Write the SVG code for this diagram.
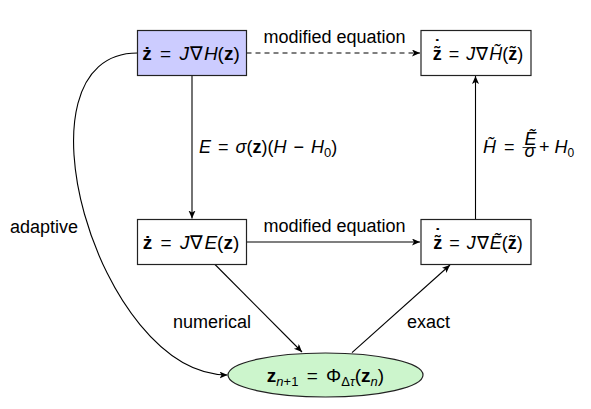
<svg xmlns="http://www.w3.org/2000/svg" width="591" height="409" viewBox="0 0 591 409">
<style>
text{font-family:"Liberation Sans",Arial,sans-serif;font-size:18px;fill:#000}
.m{font-size:19px;word-spacing:3px}
.m2{font-size:18px;word-spacing:2px}
.box{stroke:#222;stroke-width:1.2}
.c{fill:none;stroke:#000;stroke-width:1.1}
.i{font-style:italic}
.b{font-weight:bold}
</style>
<defs>
<marker id="ah" markerUnits="userSpaceOnUse" markerWidth="10" markerHeight="8" refX="8" refY="3.5" orient="auto">
<path d="M0,0 L8,3.5 L0,7 L2,3.5 z" fill="#000"/>
</marker>
</defs>
<rect width="591" height="409" fill="#fff"/>
<g id="connectors">
<line class="c" x1="246.5" y1="53" x2="420" y2="53" stroke-dasharray="5,4" marker-end="url(#ah)"/>
<line class="c" x1="192" y1="75.5" x2="192" y2="218.5" marker-end="url(#ah)"/>
<line class="c" x1="246.5" y1="242" x2="420" y2="242" marker-end="url(#ah)"/>
<line class="c" x1="475.5" y1="219" x2="475.5" y2="76" marker-end="url(#ah)"/>
<line class="c" x1="215" y1="264.5" x2="302" y2="352" marker-end="url(#ah)"/>
<line class="c" x1="352" y1="352.7" x2="450" y2="265" marker-end="url(#ah)"/>
<path class="c" d="M137.5,53 C6.5,53 97,375 227.5,375" marker-end="url(#ah)"/>
<text x="334.5" y="43" text-anchor="middle">modified equation</text>
<text x="334.5" y="232" text-anchor="middle">modified equation</text>
<text x="199" y="153" font-size="19" word-spacing="2"><tspan class="i">E</tspan> = <tspan class="i">σ</tspan>(<tspan class="b">z</tspan>)(<tspan class="i">H</tspan> − <tspan class="i">H</tspan><tspan font-size="13" dy="4">0</tspan><tspan dy="-4">)</tspan></text>
<g id="htilde-label">
<text x="483" y="153" class="i">H̃</text>
<text x="504" y="153">=</text>
<text font-size="10" class="i"><tspan x="524.5" y="144.5">Ẽ</tspan><tspan x="524.5" y="156.5">σ</tspan></text>
<line x1="522.5" y1="147.5" x2="533.5" y2="147.5" stroke="#000" stroke-width="0.8"/>
<text x="539" y="153">+ <tspan class="i">H</tspan><tspan font-size="12" dy="4">0</tspan></text>
</g>
<text x="10" y="233">adaptive</text>
<text x="173" y="328">numerical</text>
<text x="407" y="328">exact</text>
</g>
<g id="n-top-left">
<rect class="box" x="137.5" y="30.5" width="109" height="45" fill="#ccccff"/>
<text x="191" y="59.5" text-anchor="middle" class="m"><tspan class="b">ż</tspan> = <tspan class="i">J</tspan><tspan dx="1">∇</tspan><tspan class="i" dx="1">H</tspan>(<tspan class="b">z</tspan>)</text>
</g>
<g id="n-top-right">
<rect class="box" x="421" y="30.5" width="110" height="45" fill="#fff"/>
<text x="478" y="59.5" text-anchor="middle" class="m2"><tspan class="b">z̃</tspan><tspan class="b" dx="-7.5" dy="-7">˙</tspan><tspan dx="1.5" dy="7"> = </tspan><tspan class="i">J</tspan><tspan dx="1">∇</tspan><tspan class="i" dx="1">H̃</tspan>(<tspan class="b">z̃</tspan>)</text>
</g>
<g id="n-mid-left">
<rect class="box" x="137.5" y="219.5" width="109" height="45" fill="#fff"/>
<text x="191" y="248.5" text-anchor="middle" class="m"><tspan class="b">ż</tspan> = <tspan class="i">J</tspan><tspan dx="1">∇</tspan><tspan class="i" dx="1">E</tspan>(<tspan class="b">z</tspan>)</text>
</g>
<g id="n-mid-right">
<rect class="box" x="421" y="219.5" width="110" height="45" fill="#fff"/>
<text x="478" y="248.5" text-anchor="middle" class="m2"><tspan class="b">z̃</tspan><tspan class="b" dx="-7.5" dy="-7">˙</tspan><tspan dx="1.5" dy="7"> = </tspan><tspan class="i">J</tspan><tspan dx="1">∇</tspan><tspan class="i" dx="1">Ẽ</tspan>(<tspan class="b">z̃</tspan>)</text>
</g>
<g id="n-ellipse">
<ellipse class="box" cx="325.5" cy="375" rx="97.5" ry="22" fill="#ccf5cc"/>
<text x="325.5" y="382" text-anchor="middle" class="m"><tspan class="b">z</tspan><tspan class="i" font-size="13" dy="4">n</tspan><tspan font-size="13">+1</tspan><tspan dy="-4"> = Φ</tspan><tspan font-size="13" dy="4">Δ</tspan><tspan class="i" font-size="13">τ</tspan><tspan dy="-4">(</tspan><tspan class="b">z</tspan><tspan class="i" font-size="13" dy="4">n</tspan><tspan dy="-4">)</tspan></text>
</g>
</svg>
